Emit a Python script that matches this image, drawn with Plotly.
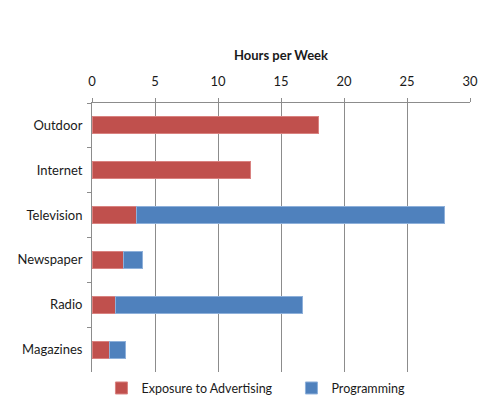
import plotly.graph_objects as go

categories = ["Outdoor", "Internet", "Television", "Newspaper", "Radio", "Magazines"]
advertising = [18.0, 12.6, 3.5, 2.5, 1.85, 1.35]
programming = [None, None, 24.5, 1.5, 14.85, 1.3]
x_ticks = [0, 5, 10, 15, 20, 25, 30]

FONT = "Lato"
fig = go.Figure()
fig.add_trace(go.Bar(
    y=categories, x=advertising, orientation="h", name="Exposure to Advertising",
    marker=dict(color="#C0504D", line=dict(color="#D98280", width=1)), width=0.38,
))
fig.add_trace(go.Bar(
    y=categories, x=programming, orientation="h", name="Programming",
    marker=dict(color="#4F81BD", line=dict(color="#8EB0DA", width=1)), width=0.38,
))

fig.update_layout(
    barmode="stack",
    width=500, height=417,
    paper_bgcolor="white", plot_bgcolor="white",
    margin=dict(l=92, r=30, t=103, b=45),
    font=dict(family=FONT, size=13, color="#1a1a1a"),
    showlegend=True,
    legend=dict(orientation="h", x=0.025, xanchor="left", y=-0.005, yanchor="top",
                entrywidth=145, entrywidthmode="pixels", font=dict(size=12.5),
                itemwidth=30, traceorder="normal"),
    xaxis=dict(
        side="top", range=[0, 30], tickvals=x_ticks,
        showgrid=True, gridcolor="#8c8c8c", gridwidth=1,
        ticks="outside", ticklen=4, tickcolor="#8c8c8c",
        showline=True, linecolor="#8c8c8c", linewidth=1, zeroline=False,
        ticklabelstandoff=7,
        title=dict(text="<b>Hours per Week</b>", font=dict(size=13), standoff=9),
    ),
    yaxis=dict(
        autorange="reversed", showline=True, linecolor="#8c8c8c", linewidth=1,
        ticks="outside", tickson="boundaries", ticklen=4, tickcolor="#8c8c8c",
        showgrid=False, ticklabelstandoff=6,
    ),
)

fig.write_html("out.html")
